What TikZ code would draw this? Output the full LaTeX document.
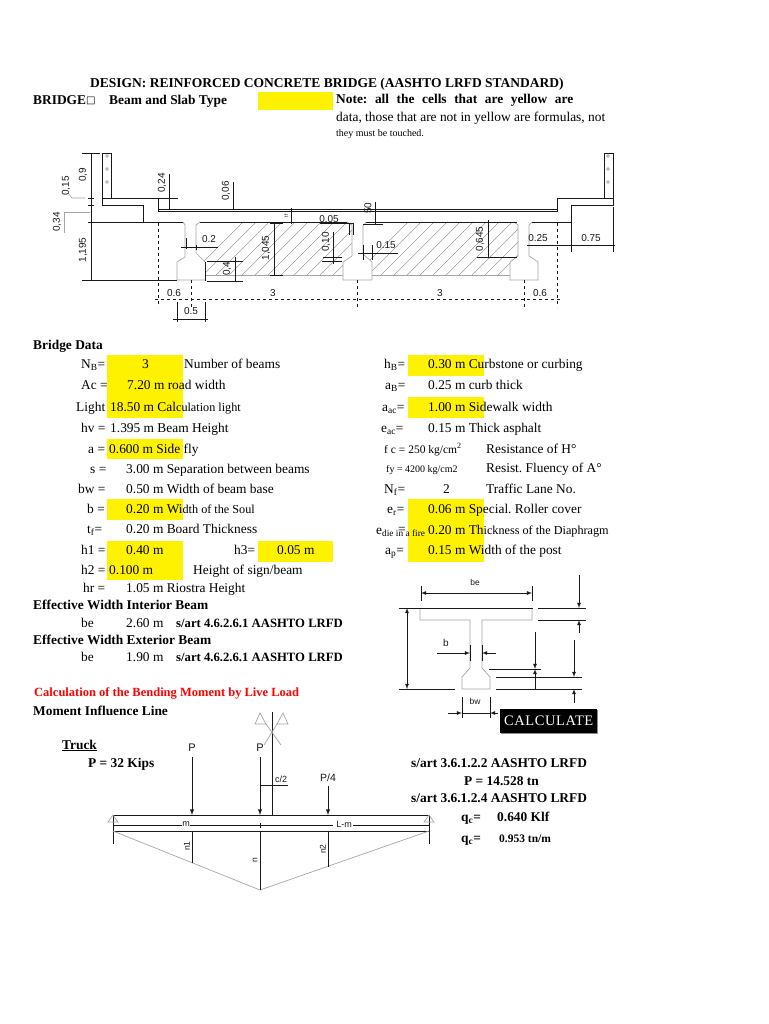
\documentclass[tikz,border=0pt]{standalone}
\usepackage{fontspec}
\setmainfont{Liberation Serif}
\setsansfont{Liberation Sans}
\newfontfamily\symbolfont{DejaVu Sans}
\newcommand{\lowtxt}[1]{\textsubscript{#1}}
\usetikzlibrary{calc,positioning}

\begin{document}
\frenchspacing
\begin{tikzpicture}[x=1pt,y=-1pt,>=latex,
	cell/.style={anchor=base west,inner sep=0pt,font=\fontsize{13.4}{14}\selectfont},
	cellsm/.style={cell,font=\fontsize{11.5}{12}\selectfont},
	cellxs/.style={cell,font=\fontsize{10}{11}\selectfont},
	cellb/.style={cell,font=\fontsize{13.4}{14}\selectfont\bfseries},
	dimtxt/.style={inner sep=0pt,font=\fontsize{10}{10}\sffamily\selectfont,text=black!90},
	vdimtxt/.style={dimtxt,rotate=90},
	darkline/.style={black!90,line width=0.95pt},
	greyline/.style={black!35,line width=0.7pt},
	dimline/.style={black!90,line width=0.8pt},
	hatchline/.style={black!50,line width=0.35pt},
	cellfill/.style={fill=yellow}]
	\useasboundingbox (0,0) rectangle (768,1024);
	\fill[white] (0,0) rectangle (768,1024);

	% yellow cells
	\fill[cellfill] (258,92) rectangle (333,110);
	\fill[cellfill] (107,355) rectangle (183,418);
	\fill[cellfill] (107,439) rectangle (183,459);
	\fill[cellfill] (107,499) rectangle (183,520);
	\fill[cellfill] (107,541) rectangle (183,580);
	\fill[cellfill] (258,541) rectangle (333,562);
	\fill[cellfill] (408,355) rectangle (484,376);
	\fill[cellfill] (408,397) rectangle (484,418);
	\fill[cellfill] (408,499) rectangle (484,562);

	% heading
	\node[cellb,font=\fontsize{13.5}{14}\selectfont\bfseries] (title) at (90,88) {DESIGN: REINFORCED CONCRETE BRIDGE (AASHTO LRFD STANDARD)};
	\node[cellb] (bridge) at (33,105) {BRIDGE{\mdseries\symbolfont\fontsize{10}{10}\selectfont\raisebox{1pt}{□}}};
	\node[cellb] (slabtype) at (109,105) {Beam and Slab Type};
	\node[cellb] (note) at (336,104) {\makebox[237pt][s]{Note: all the cells that are yellow are}};
	\node[cell] (notetwo) at (336,122) {data, those that are not in yellow are formulas, not};
	\node[cellxs] (notethree) at (336,137) {they must be touched.};

	% bridge section
	\begin{scope}
		\clip (200,222) -- (347,222) -- (352,225) -- (352,256) -- (343,262) -- (343,275) -- (205,275) -- (205,262) -- (196,253) -- (196,225) -- cycle;
		\foreach \hx in {180,193,...,375}
			\draw[hatchline] (\hx,285) -- ++(70,-70);
	\end{scope}
	\begin{scope}
		\clip (366,222) -- (514,222) -- (518,225) -- (518,256) -- (510,262) -- (510,275) -- (372,275) -- (372,262) -- (363,254) -- (363,226) -- cycle;
		\foreach \hx in {345,358,...,540}
			\draw[hatchline] (\hx,285) -- ++(70,-70);
	\end{scope}
	\draw[greyline] (205,275) -- (343,275);
	\draw[greyline] (372,275) -- (510,275);
	\draw[greyline] (183,222) -- (185,225) -- (185,257) -- (177,262) -- (177,280) -- (205,280);
	\draw[greyline] (200,222) -- (196,225) -- (196,253) -- (205,262);
	\draw[greyline] (347,222) -- (352,225) -- (352,256) -- (343,262) -- (343,280) -- (372,280) -- (372,262) -- (363,254) -- (363,226) -- (366,222);
	\draw[greyline] (514,222) -- (518,225) -- (518,256) -- (510,262) -- (510,280) -- (538,280) -- (538,262) -- (529,256) -- (529,225) -- (532,222);
	\draw[darkline] (205,262) -- (205,281);

	\draw[darkline] (102,198) -- (102,153) -- ++(9,0) -- ++(0,45);
	\draw[darkline] (604,198) -- (604,153) -- ++(9,0) -- ++(0,45);
	\foreach \py in {156,169,182} {
		\draw[greyline] (107,\py) circle (1.3);
		\draw[greyline] (608,\py) circle (1.3);
	}
	\draw[darkline] (102,198) -- (158,198) -- (158,211.5) -- (557,211.5) -- (557,198) -- (613,198) -- (613,205) -- (571,205) -- (571,222) -- (532,222);
	\draw[darkline] (158,209) -- (557,209);
	\draw[darkline] (102,198) -- (102,205) -- (143,205) -- (143,222) -- (91,222);
	\draw[darkline] (143,222) -- (183,222);
	\draw[darkline] (200,222) -- (347,222);
	\draw[darkline] (366,222) -- (514,222);
	\draw[darkline] (82,280) -- (177,280);
	\draw[darkline] (207,281) -- (243,281);

	% dimensions of the section
	\draw[dimline] (91,153) -- (91,280);
	\draw[dimline] (82,153) -- (100,153);
	\foreach \ty in {198,205,222,280}
		\draw[dimline] (88,\ty) -- (94,\ty);
	\draw[dimline] (169,174) -- (169,210);
	\draw[dimline] (158,198) -- (178,198);
	\draw[dimline] (233,182) -- (233,210);
	\draw[dimline] (291,208) -- (291,224);
	\draw[dimline] (283,222) -- (297,222);
	\draw[dimline] (274,222) -- (274,276);
	\draw[dimline] (270,223) -- (283,223);
	\draw[dimline] (270,275) -- (283,275);
	\draw[dimline] (181,247) -- (218,247);
	\draw[dimline] (186,238) -- (186,249);
	\draw[dimline] (196,245) -- (196,250);
	\draw[dimline] (235,257) -- (235,282);
	\draw[dimline] (207,261) -- (243,261);
	\draw[dimline] (320,223) -- (353,223);
	\draw[dimline] (349,223) -- (349,235);
	\draw[dimline] (353,223) -- (353,235);
	\draw[dimline] (333,232) -- (333,264);
	\draw[dimline] (323,257) -- (342,257);
	\draw[dimline] (322,261) -- (342,261);
	\draw[dimline] (375,202) -- (375,225);
	\draw[dimline] (363,224) -- (383,224);
	\draw[dimline] (358,253) -- (398,253);
	\draw[dimline] (363,245) -- (363,260);
	\draw[dimline] (372,245) -- (372,260);
	\draw[dimline] (488,220) -- (488,258);
	\draw[dimline] (477,222) -- (517,222);
	\draw[dimline] (477,257) -- (517,257);
	\draw[dimline] (527,245) -- (615,245);
	\draw[dimline] (613,207) -- (613,252);
	\draw[dimline] (571,205) -- (571,252);
	\draw[dimline,dashed] (557,223) -- (557,307);
	\draw[dimline,dashed] (155,299) -- (560,299);
	\foreach \dx/\dy in {158/223,191/280,357/280,524/280}
		\draw[dimline,dashed] (\dx,\dy) -- (\dx,307);
	\draw[dimline] (173,319) -- (208,319);
	\draw[dimline] (177,302) -- (177,322);
	\draw[dimline] (205,302) -- (205,322);
	\draw[greyline] (68,193) -- (72,198) -- (85,198);
	\draw[greyline] (64,233) -- (64,212) -- (90,212);

	\node[vdimtxt] (dimfifteen) at (66,186) {0,15};
	\node[vdimtxt] (dimthirtyfour) at (57,222) {0,34};
	\node[vdimtxt] (dimnine) at (83,175) {0,9};
	\node[vdimtxt] (dimcurb) at (83,250) {1,195};
	\node[vdimtxt] (dimtwentyfour) at (162,183) {0,24};
	\node[vdimtxt] (dimsix) at (226,191) {0,06};
	\node[vdimtxt,font=\fontsize{5}{5}\sffamily\selectfont] (dimtf) at (286,216) {tf};
	\node[vdimtxt] (dimweb) at (266,248) {1,045};
	\node[vdimtxt] (dimfour) at (227,269) {0,4};
	\node[vdimtxt] (dimten) at (326,242) {0,10};
	\node[vdimtxt] (dimfifty) at (368,208) {50};
	\node[vdimtxt] (dimgap) at (480,239) {0,645};
	\node[dimtxt] (dimtwo) at (209,239) {0.2};
	\node[dimtxt] (dimfive) at (329,219) {0.05};
	\node[dimtxt] (dimhaunch) at (386,245) {0.15};
	\node[dimtxt] (dimcurbw) at (538,238) {0.25};
	\node[dimtxt] (dimwalk) at (591,238) {0.75};
	\node[dimtxt] (dimflya) at (174,293) {0.6};
	\node[dimtxt] (dimsepa) at (273,293) {3};
	\node[dimtxt] (dimsepb) at (440,293) {3};
	\node[dimtxt] (dimflyb) at (540,293) {0.6};
	\node[dimtxt] (dimbase) at (191,311) {0.5};

	% bridge data, left column
	\node[cellb] (datahead) at (33,349) {Bridge Data};
	\node[cell] (nbl) at (81,368) {N\lowtxt{B}=};
	\node[cell] (nbv) at (142,368) {3};
	\node[cell] (nbt) at (184,368) {Number of beams};
	\node[cell] (acl) at (81,389) {Ac =};
	\node[cell] (acv) at (127,389) {7.20 m road width};
	\node[cell] (lightl) at (76,411) {Light};
	\node[cell] (lightv) at (110,411) {18.50 m Cal{\fontsize{12.2}{13}\selectfont culation light}};
	\node[cell] (hvl) at (81,432) {hv =};
	\node[cell] (hvv) at (110,432) {1.395 m Beam Height};
	\node[cell] (al) at (88,453) {a =};
	\node[cell] (av) at (109,453) {0.600 m Side fly};
	\node[cell] (sl) at (90,473) {s =};
	\node[cell] (sv) at (126,473) {3.00 m Separation between beams};
	\node[cell] (bwl) at (78,493) {bw =};
	\node[cell] (bwv) at (126,493) {0.50 m Width of beam base};
	\node[cell] (bl) at (87,513) {b =};
	\node[cell] (bv) at (126,513) {0.20 m Wi{\fontsize{12.2}{13}\selectfont dth of the Soul}};
	\node[cell] (tfl) at (87,533) {t\lowtxt{f}=};
	\node[cell] (tfv) at (126,533) {0.20 m Board Thickness};
	\node[cell] (honel) at (81,554) {h1 =};
	\node[cell] (honev) at (126,554) {0.40 m};
	\node[cell] (hthreel) at (234,554) {h3=};
	\node[cell] (hthreev) at (277,554) {0.05 m};
	\node[cell] (htwol) at (81,574) {h2 =};
	\node[cell] (htwov) at (109,574) {0.100 m};
	\node[cell] (htwot) at (193,574) {Height of sign/beam};
	\node[cell] (hrl) at (83,592) {hr =};
	\node[cell] (hrv) at (126,592) {1.05 m Riostra Height};

	% bridge data, right column
	\node[cell] (hbl) at (384,368) {h\lowtxt{B}=};
	\node[cell] (hbv) at (428,368) {0.30 m Curbstone or curbing};
	\node[cell] (abl) at (385,389) {a\lowtxt{B}=};
	\node[cell] (abv) at (428,389) {0.25 m curb thick};
	\node[cell] (aacl) at (382,411) {a\lowtxt{ac}=};
	\node[cell] (aacv) at (428,411) {1.00 m Sidewalk width};
	\node[cell] (eacl) at (381,432) {e\lowtxt{ac}=};
	\node[cell] (eacv) at (428,432) {0.15 m Thick asphalt};
	\node[cellsm] (fcl) at (384,453) {f c = 250 kg/cm\textsuperscript{2}};
	\node[cell] (fct) at (486,453) {Resistance of H°};
	\node[cellxs] (fyl) at (386,472) {fy = 4200 kg/cm2};
	\node[cell] (fyt) at (486,472) {Resist. Fluency of A°};
	\node[cell] (nfl) at (384,493) {N\lowtxt{f}=};
	\node[cell] (nfv) at (443,493) {2};
	\node[cell] (nft) at (486,493) {Traffic Lane No.};
	\node[cell] (erl) at (387,513) {e\lowtxt{r}=};
	\node[cell] (erv) at (428,513) {0.06 m Special. Roller cover};
	\node[cell] (edl) at (376,534) {e\lowtxt{die in a fire}\llap{\raisebox{1pt}{=}\hspace{20pt}}};
	\node[cell] (edv) at (428,534) {0.20 m Th{\fontsize{12.2}{13}\selectfont ickness of the Diaphragm}};
	\node[cell] (apl) at (385,554) {a\lowtxt{p}=};
	\node[cell] (apv) at (428,554) {0.15 m Width of the post};

	% effective widths
	\node[cellb] (interior) at (33,609) {Effective Width Interior Beam};
	\node[cell] (bel) at (81,627) {be};
	\node[cell] (bev) at (126,627) {2.60 m};
	\node[cellb,font=\fontsize{12.7}{13}\selectfont\bfseries] (beart) at (176,627) {s/art 4.6.2.6.1 AASHTO LRFD};
	\node[cellb] (exterior) at (33,644) {Effective Width Exterior Beam};
	\node[cell] (bxl) at (81,661) {be};
	\node[cell] (bxv) at (126,661) {1.90 m};
	\node[cellb,font=\fontsize{12.7}{13}\selectfont\bfseries] (bxart) at (176,661) {s/art 4.6.2.6.1 AASHTO LRFD};

	\node[cellb,font=\fontsize{12.5}{13}\selectfont\bfseries,text=red] (livehead) at (34,696) {Calculation of the Bending Moment by Live Load};
	\node[cellb] (influence) at (33,715) {Moment Influence Line};
	\node[cellb] (truck) at (62,749) {\underline{Truck}};
	\node[cellb] (kips) at (88,767) {P = 32 Kips};

	% T beam
	\draw[greyline] (420,608) -- (420,620) -- (470,620) -- (470,668) -- (462,677) -- (462,689) -- (490,689) -- (490,677) -- (482,668) -- (482,620) -- (532,620) -- (532,608);
	\draw[darkline] (399,608) -- (533,608);
	\draw[darkline] (538,608) -- (586,608);
	\draw[darkline] (538,620) -- (586,620);
	\draw[darkline] (399,689) -- (455,689);
	\draw[darkline] (496,689) -- (582,689);
	\draw[darkline] (489,669) -- (541,669);
	\draw[darkline] (496,677) -- (582,677);
	\draw[dimline,<->] (421,593) -- (532,593);
	\draw[dimline] (421,586) -- (421,601);
	\draw[dimline] (532,586) -- (532,601);
	\draw[dimline,<->] (407,608) -- (407,689);
	\draw[dimline,->] (437,653) -- (470,653);
	\draw[dimline,->] (496,653) -- (482,653);
	\draw[dimline] (470,645) -- (470,661);
	\draw[dimline] (482,645) -- (482,661);
	\draw[dimline,->] (448,713) -- (462,713);
	\draw[dimline,->] (498,713) -- (490,713);
	\draw[dimline] (462,713) -- (490,713);
	\draw[dimline] (462,697) -- (462,718);
	\draw[dimline] (490,697) -- (490,718);
	\draw[dimline,->] (579,575) -- (579,608);
	\draw[dimline,->] (579,633) -- (579,620);
	\draw[dimline,->] (535,632) -- (535,669);
	\draw[dimline,->] (535,690) -- (535,669);
	\draw[dimline,->] (574,640) -- (574,677);
	\draw[dimline,->] (574,703) -- (574,689);
	\node[dimtxt,font=\fontsize{8.5}{9}\sffamily\selectfont] (tbe) at (475,582) {be};
	\node[dimtxt] (tb) at (446,643) {b};
	\node[dimtxt,font=\fontsize{8.5}{9}\sffamily\selectfont] (tbw) at (475,701) {bw};

	\fill[black!45] (501,710) rectangle (598,734);
	\node[fill=black,text=white,minimum width=97pt,minimum height=24pt,inner sep=0pt,anchor=north west,font=\fontsize{14.5}{15}\selectfont\addfontfeatures{LetterSpace=4}] (calculate) at (500,709) {CALCULATE};

	% influence line
	\draw[darkline] (113,815) -- (429,815);
	\draw[darkline] (113,825) -- (182,825);
	\draw[darkline] (190,825) -- (333,825);
	\draw[darkline] (353,825) -- (429,825);
	\draw[darkline] (113,831) -- (429,831);
	\draw[darkline] (113,815) -- (113,844);
	\draw[darkline] (429,815) -- (429,844);
	\draw[darkline] (260,823) -- (260,828);
	\draw[greyline] (113,815) -- (108,822) -- (118,822) -- cycle;
	\draw[greyline] (429,815) -- (424,822) -- (434,822) -- cycle;
	\draw[greyline] (113,831) -- (260,890) -- (429,831);
	\draw[darkline] (192,831) -- (192,863);
	\draw[darkline] (260,831) -- (260,890);
	\draw[darkline] (328,831) -- (328,867);
	\draw[darkline,->] (192,757) -- (192,815);
	\draw[darkline,->] (260,757) -- (260,815);
	\draw[darkline,->] (328,786) -- (328,815);
	\draw[darkline] (272,712) -- (272,815);
	\draw[darkline] (260,785) -- (288,785);
	\draw[greyline] (260,713) -- (255,724) -- (266,724) -- cycle;
	\draw[greyline] (283,713) -- (277,724) -- (288,724) -- cycle;
	\draw[greyline] (266,724) -- (281,745);
	\draw[greyline] (277,724) -- (264,745);
	\node[dimtxt,font=\fontsize{11}{11}\sffamily\selectfont] (loada) at (192,748) {P};
	\node[dimtxt,font=\fontsize{11}{11}\sffamily\selectfont] (loadb) at (260,748) {P};
	\node[dimtxt,font=\fontsize{10.5}{11}\sffamily\selectfont] (loadc) at (328,778) {P/4};
	\node[dimtxt,font=\fontsize{9}{9}\sffamily\selectfont] (halfc) at (281,779) {c/2};
	\node[dimtxt,font=\fontsize{9}{9}\sffamily\selectfont] (lenm) at (186,824) {m};
	\node[dimtxt,font=\fontsize{9}{9}\sffamily\selectfont] (lenlm) at (344,824) {L-m};
	\node[vdimtxt,font=\fontsize{8.5}{9}\sffamily\selectfont] (ordone) at (187,846) {n1};
	\node[vdimtxt,font=\fontsize{8.5}{9}\sffamily\selectfont] (ordmid) at (255,860) {n};
	\node[vdimtxt,font=\fontsize{8.5}{9}\sffamily\selectfont] (ordtwo) at (323,849) {n2};

	% lower right
	\node[cellb] (artone) at (411,767) {s/art 3.6.1.2.2 AASHTO LRFD};
	\node[cellb] (tonnes) at (464,785) {P = 14.528 tn};
	\node[cellb] (arttwo) at (411,802) {s/art 3.6.1.2.4 AASHTO LRFD};
	\node[cellb] (qcone) at (461,821) {q\lowtxt{c}=};
	\node[cellb] (qconev) at (497,821) {0.640 Klf};
	\node[cellb] (qctwo) at (461,842) {q\lowtxt{c}=};
	\node[cellb,font=\fontsize{11.5}{12}\selectfont\bfseries] (qctwov) at (499,842) {0.953 tn/m};
\end{tikzpicture}
\end{document}
